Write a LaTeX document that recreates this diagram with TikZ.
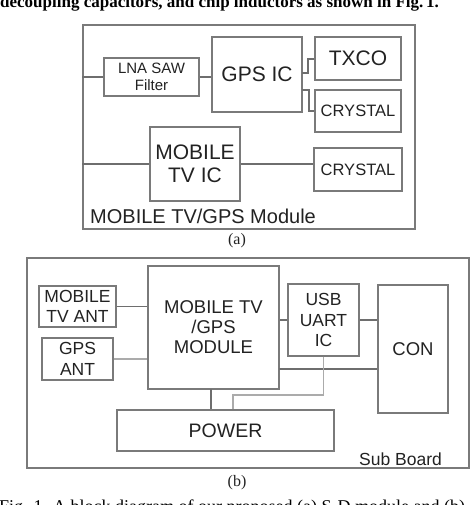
\documentclass[tikz,border=0pt]{standalone}
\usepackage{fontspec}
\setmainfont{Liberation Sans}
\newfontfamily\timesf{Liberation Serif}
\usetikzlibrary{calc}
\definecolor{boxc}{HTML}{7A7A7A}
\definecolor{linec}{HTML}{6E6E6E}
\definecolor{lightc}{HTML}{ABABAB}
\definecolor{txtc}{HTML}{222222}
\tikzset{
  box/.style={draw=boxc, line width=1.2pt, inner sep=0pt, align=center, text=txtc},
  conn/.style={draw=linec, line width=1.1pt},
  lconn/.style={draw=lightc, line width=1.1pt}
}
\begin{document}
\begin{tikzpicture}[x=1pt,y=-1pt]
\useasboundingbox (0,0) rectangle (474,505);
% captions (partly cut by the page edge, as in the reference)
\node[anchor=base west, font=\timesf\bfseries\fontsize{17}{19}\selectfont, inner sep=0pt] (capt) at (0,7.5) {decoupling capacitors, and chip inductors as shown in Fig.\,1.};
\node[anchor=base west, font=\timesf\fontsize{18}{20}\selectfont, inner sep=0pt] (capb) at (-1,512) {Fig. 1. A block diagram of our proposed (a) S-D module and (b)};
% ---------- (a)
\node[box, minimum width=332pt, minimum height=204pt] (A) at (249,127) {};
\node[box, minimum width=90pt, minimum height=75pt, font=\fontsize{21}{23}\selectfont] (GPS) at (257,74.5) {GPS IC};
\node[box, minimum width=95pt, minimum height=38pt, font=\fontsize{15}{17}\selectfont] (LNA) at (151.5,77) {LNA SAW\\Filter};
\node[box, minimum width=90pt, minimum height=74pt, font=\fontsize{21}{23}\selectfont] (MTV) at (195,164) {MOBILE\\TV IC};
\node[box, minimum width=86pt, minimum height=43pt, font=\fontsize{21}{23}\selectfont] (TXCO) at (358,58.5) {TXCO};
\node[box, minimum width=86pt, minimum height=42pt, font=\fontsize{16.5}{18}\selectfont] (CRA) at (358,111) {CRYSTAL};
\node[box, minimum width=88pt, minimum height=43pt, font=\fontsize{16.5}{18}\selectfont] (CRB) at (358,169.5) {CRYSTAL};
\node[anchor=base west, inner sep=0pt, text=txtc, font=\fontsize{20}{22}\selectfont] (Alab) at (90,223) {MOBILE TV/GPS Module};
\node[inner sep=0pt, text=txtc, font=\timesf\fontsize{16}{18}\selectfont] (la) at (237,241) {(a)};
\draw[conn] (LNA.west) -- (LNA.west -| A.west);
\draw[conn] (LNA.east) -- (LNA.east -| GPS.west);
\draw[conn] (MTV.west) -- (MTV.west -| A.west);
\draw[conn] (MTV.east) -- (MTV.east -| CRB.west);
\coordinate (g1) at (302,73);
\coordinate (g2) at (308,59);
\coordinate (g3) at (302,90);
\coordinate (g4) at (309,111);
\draw[conn] (g1) -| (g2) -- (g2 -| TXCO.west);
\draw[conn] (g3) -| (g4) -- (g4 -| CRA.west);
% ---------- (b)
\node[box, minimum width=442pt, minimum height=210pt] (SB) at (248,363) {};
\node[box, minimum width=131pt, minimum height=123pt, font=\fontsize{18.5}{20}\selectfont] (MOD) at (213.5,327.5) {MOBILE TV\\/GPS\\MODULE};
\node[box, minimum width=77pt, minimum height=41pt, font=\fontsize{17.5}{20.5}\selectfont] (MANT) at (77.5,306.5) {MOBILE\\TV ANT};
\node[box, minimum width=71pt, minimum height=42pt, font=\fontsize{17.5}{20.5}\selectfont] (GANT) at (77.5,359) {GPS\\ANT};
\node[box, minimum width=71pt, minimum height=72pt, font=\fontsize{17.5}{20.5}\selectfont] (USB) at (323.5,320) {USB\\UART\\IC};
\node[box, minimum width=70pt, minimum height=128pt, font=\fontsize{18.5}{20}\selectfont] (CON) at (413,349) {CON};
\node[box, minimum width=217pt, minimum height=41pt, font=\fontsize{19.5}{21}\selectfont] (PWR) at (225.5,430.5) {POWER};
\node[anchor=base west, inner sep=0pt, text=txtc, font=\fontsize{17.5}{19}\selectfont] (SBlab) at (359,465) {Sub Board};
\node[inner sep=0pt, text=txtc, font=\timesf\fontsize{16}{18}\selectfont] (lb) at (237,483) {(b)};
\draw[conn] (MANT.east) -- (MANT.east -| MOD.west);
\draw[lconn] (GANT.east) -- (GANT.east -| MOD.west);
\draw[conn] (USB.west) -- (USB.west -| MOD.east);
\draw[conn] (USB.east) -- (USB.east -| CON.west);
\coordinate (m1) at (279,369);
\draw[conn] (m1) -- (m1 -| CON.west);
\coordinate (pw) at (233,395);
\draw[lconn] (USB.south) |- (pw) -- (pw |- PWR.north);
\coordinate (ms) at (211,389);
\draw[conn] (ms) -- (ms |- PWR.north);
\end{tikzpicture}
\end{document}
